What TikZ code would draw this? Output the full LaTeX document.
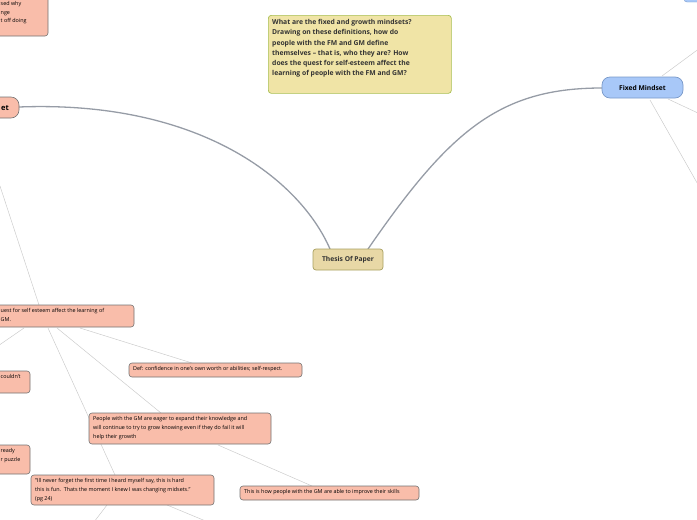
\documentclass[tikz,border=0pt]{standalone}
\usepackage{fontspec}
\setmainfont{Open Sans}
\begin{document}
\begin{tikzpicture}[x=1pt,y=-1pt,
  pbox/.style={draw=black!55,fill=pinkf,rounded corners=3pt,line width=0.6pt},
  ltxt/.style={font=\fontsize{5.4}{8.8}\selectfont,anchor=north west,align=left,inner sep=0pt},
  thin/.style={draw=black!20,line width=0.5pt},
  curve/.style={draw=curvec,line width=1.3pt}]
\definecolor{pinkf}{HTML}{F9BDAA}
\definecolor{curvec}{HTML}{969CA6}
\definecolor{qfill}{HTML}{F0E4A6}
\definecolor{qdraw}{HTML}{A8BE50}
\definecolor{tfill}{HTML}{E8D8A6}
\definecolor{tdraw}{HTML}{A8A060}
\definecolor{bfill}{HTML}{A8C8F8}
\definecolor{bdraw}{HTML}{7898C8}
\useasboundingbox (0,0) rectangle (697,520);
\begin{scope}
\clip (0,0) rectangle (697,520);
\coordinate (c1) at (19,107);
\coordinate (c2) at (330,249);
\coordinate (c3) at (368,249);
\coordinate (c4) at (602,88);
\draw[curve] (c1) .. controls (200,100) and (300,180) .. (c2);
\draw[curve] (c3) .. controls (450,130) and (500,88) .. (c4);
\draw[thin] (662,76) -- (700,48);
\draw[thin] (668,99) -- (700,114);
\draw[thin] (650,100) -- (700,188);
\draw[thin] (0,186) -- (39,305);
\draw[thin] (24,328) -- (-5,348);
\draw[thin] (80,328) -- (192,363);
\draw[thin] (57,328) -- (161,413);
\draw[thin] (48,328) -- (115,475);
\draw[thin] (218,445) -- (312,486);
\draw[thin] (107,505) -- (94,522);
\draw[thin] (167,505) -- (208,522);
\draw[pbox] (-100,-10) rectangle (48,36);
\node[ltxt] (tl) at (0.5,1) {sed why\\nge\\t off doing};
\draw[pbox,rounded corners=8pt] (-60,97) rectangle (19,118);
\node[font=\fontsize{7.5}{9}\selectfont\bfseries,anchor=east,inner sep=0pt] (et) at (9,108) {et};
\draw[pbox] (-200,305) rectangle (134,327);
\node[ltxt] (se) at (0.5,308.5) {uest for self esteem affect the learning of\\GM.};
\draw[pbox] (129,363) rectangle (302,377);
\node[ltxt] (def) at (133,366.5) {Def: confidence in one's own worth or abilities; self-respect.};
\draw[pbox] (-100,371) rectangle (30,393);
\node[ltxt] (cd) at (0.5,374.5) {couldn't};
\draw[pbox] (89,413) rectangle (271,444);
\node[ltxt] (pp) at (93,416.5) {People with the GM are eager to expand their knowledge and\\will continue to try to grow knowing even if they do fail it will\\help their growth};
\draw[pbox] (-100,445) rectangle (30,474);
\node[ltxt] (rd) at (0.5,448.5) {ready\\r puzzle};
\draw[pbox] (31,475) rectangle (214,505);
\node[ltxt] (qt) at (35,478.5) {"Ill never forget the first time I heard myself say, this is hard\\this is fun.\ \ Thats the moment I knew I was changing midsets."\\(pg 24)};
\draw[pbox] (240,486) rectangle (419,500);
\node[ltxt] (th) at (244,489.5) {This is how people with the GM are able to improve their skills};
\draw[draw=bdraw,fill=bfill,rounded corners=3pt] (684,-20) rectangle (720,2);
\end{scope}
\node[draw=qdraw,fill=qfill,line width=0.7pt,rounded corners=3pt,
  minimum width=183pt,minimum height=78pt,anchor=north west,inner sep=0pt] (q) at (268,15) {};
\node[anchor=north west,inner sep=0pt,align=left,font=\fontsize{6.8}{10.3}\selectfont\bfseries,text=black!80] (qt2) at (272,19)
 {What are the fixed and growth mindsets?\\Drawing on these definitions, how do\\people with the FM and GM define\\themselves -- that is, who they are? How\\does the quest for self-esteem affect the\\learning of people with the FM and GM?};
\node[draw=tdraw,fill=tfill,line width=0.7pt,rounded corners=3pt,
  minimum width=70pt,minimum height=21pt,font=\fontsize{6.7}{8}\selectfont\bfseries,text=black!80] (th2) at (348,259.5) {Thesis Of Paper};
\node[draw=bdraw,fill=bfill,line width=0.7pt,rounded corners=8pt,
  minimum width=81pt,minimum height=21pt,font=\fontsize{6.7}{8}\selectfont\bfseries] (fm) at (642.5,87.5) {Fixed Mindset};
\end{tikzpicture}
\end{document}
